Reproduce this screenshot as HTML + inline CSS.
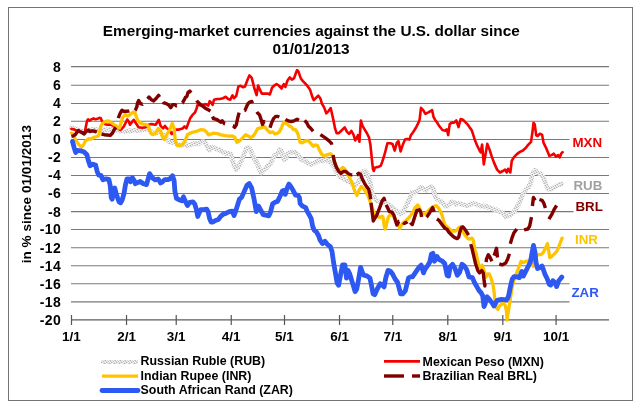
<!DOCTYPE html>
<html><head><meta charset="utf-8"><style>
html,body{margin:0;padding:0;background:#fff;}
svg{display:block;}
text{font-family:"Liberation Sans",Arial,sans-serif;font-weight:bold;fill:#000;}
.ax{font-size:13.5px;}
.yl{font-size:14px;letter-spacing:0.3px;}
.lb{font-size:13.3px;}
.lg{font-size:12.4px;}
.tt{font-size:15.4px;}
.yt{font-size:13.6px;}
</style></head><body>
<svg width="641" height="408" viewBox="0 0 641 408">
<defs><pattern id="rubpat" patternUnits="userSpaceOnUse" x="0" y="0" width="5" height="5"><rect width="5" height="5" fill="#d6d6d6"/><rect x="0" y="0" width="1" height="1" fill="#b8b8b8"/><rect x="1" y="0" width="1" height="1" fill="#f4f4f4"/><rect x="3" y="0" width="1" height="1" fill="#f4f4f4"/><rect x="2" y="1" width="1" height="1" fill="#f4f4f4"/><rect x="3" y="1" width="1" height="1" fill="#b8b8b8"/><rect x="4" y="1" width="1" height="1" fill="#f4f4f4"/><rect x="0" y="2" width="1" height="1" fill="#f4f4f4"/><rect x="1" y="2" width="1" height="1" fill="#b8b8b8"/><rect x="3" y="2" width="1" height="1" fill="#f4f4f4"/><rect x="1" y="3" width="1" height="1" fill="#f4f4f4"/><rect x="2" y="3" width="1" height="1" fill="#f4f4f4"/><rect x="4" y="3" width="1" height="1" fill="#b8b8b8"/><rect x="0" y="4" width="1" height="1" fill="#f4f4f4"/><rect x="2" y="4" width="1" height="1" fill="#b8b8b8"/><rect x="3" y="4" width="1" height="1" fill="#f4f4f4"/><rect x="4" y="4" width="1" height="1" fill="#f4f4f4"/></pattern></defs>
<rect width="641" height="408" fill="#fff"/>
<rect x="8.5" y="7.5" width="624" height="393" fill="none" stroke="#747474" stroke-width="1"/>
<line x1="71" y1="66.60" x2="609" y2="66.60" stroke="#787878" stroke-width="1.1"/>
<line x1="71" y1="85.20" x2="609" y2="85.20" stroke="#787878" stroke-width="1.1"/>
<line x1="71" y1="103.50" x2="609" y2="103.50" stroke="#787878" stroke-width="1.1"/>
<line x1="71" y1="121.30" x2="609" y2="121.30" stroke="#787878" stroke-width="1.1"/>
<line x1="71" y1="139.50" x2="609" y2="139.50" stroke="#787878" stroke-width="1.1"/>
<line x1="71" y1="157.50" x2="609" y2="157.50" stroke="#787878" stroke-width="1.1"/>
<line x1="71" y1="175.50" x2="609" y2="175.50" stroke="#787878" stroke-width="1.1"/>
<line x1="71" y1="193.50" x2="609" y2="193.50" stroke="#787878" stroke-width="1.1"/>
<line x1="71" y1="211.60" x2="609" y2="211.60" stroke="#787878" stroke-width="1.1"/>
<line x1="71" y1="229.50" x2="609" y2="229.50" stroke="#787878" stroke-width="1.1"/>
<line x1="71" y1="247.70" x2="609" y2="247.70" stroke="#787878" stroke-width="1.1"/>
<line x1="71" y1="265.80" x2="609" y2="265.80" stroke="#787878" stroke-width="1.1"/>
<line x1="71" y1="283.80" x2="609" y2="283.80" stroke="#787878" stroke-width="1.1"/>
<line x1="71" y1="301.90" x2="609" y2="301.90" stroke="#787878" stroke-width="1.1"/>
<line x1="71" y1="319.90" x2="609" y2="319.90" stroke="#5c5c5c" stroke-width="1.2"/>
<line x1="71.50" y1="315" x2="71.50" y2="325" stroke="#555" stroke-width="1.2"/>
<text x="71.50" y="340.6" text-anchor="middle" class="ax">1/1</text>
<line x1="126.53" y1="315" x2="126.53" y2="325" stroke="#555" stroke-width="1.2"/>
<text x="126.53" y="340.6" text-anchor="middle" class="ax">2/1</text>
<line x1="176.22" y1="315" x2="176.22" y2="325" stroke="#555" stroke-width="1.2"/>
<text x="176.22" y="340.6" text-anchor="middle" class="ax">3/1</text>
<line x1="231.25" y1="315" x2="231.25" y2="325" stroke="#555" stroke-width="1.2"/>
<text x="231.25" y="340.6" text-anchor="middle" class="ax">4/1</text>
<line x1="284.50" y1="315" x2="284.50" y2="325" stroke="#555" stroke-width="1.2"/>
<text x="284.50" y="340.6" text-anchor="middle" class="ax">5/1</text>
<line x1="339.52" y1="315" x2="339.52" y2="325" stroke="#555" stroke-width="1.2"/>
<text x="339.52" y="340.6" text-anchor="middle" class="ax">6/1</text>
<line x1="392.77" y1="315" x2="392.77" y2="325" stroke="#555" stroke-width="1.2"/>
<text x="392.77" y="340.6" text-anchor="middle" class="ax">7/1</text>
<line x1="447.80" y1="315" x2="447.80" y2="325" stroke="#555" stroke-width="1.2"/>
<text x="447.80" y="340.6" text-anchor="middle" class="ax">8/1</text>
<line x1="502.82" y1="315" x2="502.82" y2="325" stroke="#555" stroke-width="1.2"/>
<text x="502.82" y="340.6" text-anchor="middle" class="ax">9/1</text>
<line x1="556.08" y1="315" x2="556.08" y2="325" stroke="#555" stroke-width="1.2"/>
<text x="556.08" y="340.6" text-anchor="middle" class="ax">10/1</text>
<text x="61.0" y="71.50" text-anchor="end" class="yl">8</text>
<text x="61.0" y="90.10" text-anchor="end" class="yl">6</text>
<text x="61.0" y="108.40" text-anchor="end" class="yl">4</text>
<text x="61.0" y="126.20" text-anchor="end" class="yl">2</text>
<text x="61.0" y="144.40" text-anchor="end" class="yl">0</text>
<text x="61.0" y="162.40" text-anchor="end" class="yl">-2</text>
<text x="61.0" y="180.40" text-anchor="end" class="yl">-4</text>
<text x="61.0" y="198.40" text-anchor="end" class="yl">-6</text>
<text x="61.0" y="216.50" text-anchor="end" class="yl">-8</text>
<text x="61.0" y="234.40" text-anchor="end" class="yl">-10</text>
<text x="61.0" y="252.60" text-anchor="end" class="yl">-12</text>
<text x="61.0" y="270.70" text-anchor="end" class="yl">-14</text>
<text x="61.0" y="288.70" text-anchor="end" class="yl">-16</text>
<text x="61.0" y="306.80" text-anchor="end" class="yl">-18</text>
<text x="61.0" y="324.80" text-anchor="end" class="yl">-20</text>
<rect x="569.5" y="134" width="40" height="14" fill="#fff"/>
<rect x="573.5" y="205" width="36" height="12" fill="#fff"/>
<rect x="569.5" y="278" width="40" height="28" fill="#fff"/>
<polyline fill="none" stroke-linejoin="round" stroke-linecap="round" stroke="url(#rubpat)" stroke-width="4.8" points="71.5,127.6 74.0,128.2 77.0,130.0 80.0,131.0 84.0,131.5 87.0,130.5 90.0,130.0 94.0,129.5 97.0,129.8 100.0,130.2 103.0,130.0 106.0,130.0 109.0,129.5 112.0,129.6 116.0,130.2 120.0,131.0 124.0,131.2 128.0,131.0 132.0,130.6 136.0,130.2 139.4,130.5 143.0,129.5 147.0,129.0 150.0,131.0 153.0,133.0 156.0,133.0 159.0,131.5 162.0,134.0 163.7,135.5 166.2,137.4 168.1,140.5 170.0,142.4 172.5,142.4 175.0,143.0 177.5,144.2 180.0,145.5 182.5,144.9 185.0,144.2 187.5,145.5 190.0,144.9 192.5,144.2 195.0,143.3 197.5,144.0 200.0,142.8 202.4,141.5 204.3,142.0 206.4,144.8 208.1,148.2 209.5,150.0 211.2,147.4 213.7,147.5 216.2,149.0 218.7,149.6 221.3,151.2 223.9,152.5 226.4,153.5 228.7,153.4 231.0,154.3 232.5,160.0 234.4,166.5 236.2,169.5 238.1,167.0 240.0,163.5 242.0,159.6 244.4,152.7 246.4,148.3 248.3,147.4 249.8,148.8 251.3,151.8 252.7,155.7 254.2,158.6 256.2,161.6 258.1,165.5 260.1,170.4 261.1,173.0 262.5,171.4 264.5,169.4 266.5,167.5 268.4,165.5 270.4,163.5 272.4,159.6 274.3,155.7 276.3,154.7 278.2,152.7 279.7,149.8 281.2,150.8 282.6,154.7 284.1,159.6 285.6,158.6 287.1,154.7 289.0,152.7 291.0,152.7 292.9,151.8 294.9,152.3 296.9,153.7 298.8,156.2 299.9,158.1 302.4,160.0 305.0,161.0 307.9,162.8 310.9,164.5 313.8,163.2 316.8,161.8 319.7,160.3 322.6,161.0 325.6,159.6 328.5,160.3 331.5,163.2 333.7,166.2 335.9,171.0 338.1,174.5 340.2,177.0 342.9,178.5 345.9,180.2 348.8,181.8 351.8,183.5 354.7,185.7 357.6,183.5 360.6,177.6 362.8,171.8 365.0,171.0 367.2,174.0 369.4,179.1 370.9,186.5 372.4,193.8 374.6,198.5 376.8,200.9 381.7,201.9 387.5,203.8 392.5,207.7 397.4,211.7 400.3,214.0 402.3,212.6 404.2,209.7 406.2,205.8 408.1,201.9 410.1,197.9 411.9,192.5 414.1,193.2 417.1,191.0 419.3,188.8 421.5,187.4 423.7,188.8 425.9,190.3 428.1,188.1 431.0,186.6 433.2,188.8 434.7,194.7 436.2,198.4 439.1,200.6 442.1,202.1 445.0,205.7 447.2,206.5 449.4,204.0 451.6,202.0 454.0,202.5 455.9,204.3 458.8,203.5 461.8,204.3 464.7,205.0 467.6,205.7 470.6,204.3 473.5,203.5 476.5,204.3 479.4,205.7 482.4,206.3 485.3,205.9 488.2,207.2 491.2,208.5 494.1,209.4 497.1,210.1 500.0,211.6 502.5,212.8 505.9,216.8 508.1,216.0 510.3,215.0 512.5,213.5 515.4,209.7 518.9,203.5 522.3,195.5 524.9,190.9 528.3,187.4 530.9,182.3 532.6,173.7 535.2,170.3 537.7,172.9 540.3,173.7 542.9,176.3 545.4,183.2 548.0,189.2 551.5,189.2 554.9,186.6 558.3,184.9 561.7,184.0"/>
<polyline fill="none" stroke-linejoin="round" stroke-linecap="round" stroke="#f40000" stroke-width="2.6" points="71.4,129.0 73.9,129.4 75.8,130.2 77.8,130.5 79.8,131.3 81.7,132.2 83.7,132.8 85.0,131.5 85.2,130.1 86.1,125.6 87.1,120.7 88.1,119.3 89.6,120.7 91.5,119.3 93.5,118.3 95.5,119.3 97.4,118.8 99.4,117.8 100.8,118.3 101.8,120.7 103.3,122.7 105.3,124.2 107.2,124.7 110.0,124.5 112.9,125.6 115.9,127.6 118.8,129.0 120.3,130.0 121.8,128.6 123.7,126.6 125.5,123.2 127.2,119.5 128.7,121.6 130.0,124.7 133.7,119.8 136.1,123.5 138.6,127.2 142.3,127.8 145.9,127.2 148.4,124.7 151.4,124.1 155.7,124.7 158.8,119.8 160.6,125.9 163.1,128.4 164.9,125.9 166.8,128.4 169.2,129.6 171.7,134.0 172.9,132.7 175.3,129.6 179.0,129.6 182.7,128.4 184.5,126.5 186.4,128.4 188.2,123.5 190.0,118.6 192.5,114.9 195.0,112.5 196.8,108.0 197.2,105.5 199.4,104.9 202.4,105.6 205.3,104.1 208.2,105.6 209.7,101.2 211.2,102.6 212.6,104.9 214.1,99.7 217.1,99.0 220.0,99.0 222.9,98.2 225.9,96.8 228.1,99.0 230.3,99.7 232.5,95.3 234.0,98.2 236.2,96.0 238.4,86.5 240.6,85.7 242.8,87.2 245.0,86.5 247.2,80.6 249.4,75.4 251.6,77.6 252.2,79.6 254.4,88.5 256.6,95.1 258.1,85.5 259.6,89.2 261.8,93.6 264.7,93.6 267.6,93.6 269.9,94.4 272.1,87.7 274.3,85.5 276.5,84.1 278.7,85.5 281.6,88.5 283.8,84.1 285.3,87.0 287.5,80.4 289.7,77.4 291.9,79.6 294.1,78.2 295.6,73.8 297.1,70.1 298.5,71.6 300.7,78.2 302.9,81.1 305.1,83.3 307.6,86.2 310.1,89.8 312.4,97.1 313.8,100.1 316.0,97.9 318.2,95.6 320.4,98.6 321.9,103.7 324.1,107.4 326.3,113.3 328.5,111.1 330.7,108.1 332.2,114.8 333.7,121.4 335.1,128.7 336.6,133.1 338.8,133.1 341.8,130.2 344.7,127.3 346.9,131.7 349.1,133.9 351.3,130.9 353.5,134.6 355.2,140.5 356.5,138.1 357.9,135.2 359.4,141.8 360.9,120.5 362.4,125.6 364.6,129.3 366.8,133.0 369.0,137.4 370.4,144.8 371.2,152.4 371.9,159.7 373.0,169.3 373.8,171.0 374.9,167.8 376.7,167.1 378.9,166.7 380.8,165.6 382.2,161.9 384.1,156.0 385.5,150.9 387.4,143.3 390.3,143.3 392.5,144.0 394.7,150.6 396.9,142.6 398.4,141.1 400.6,151.4 402.8,144.8 405.0,139.6 407.2,138.9 409.4,139.6 410.9,135.2 413.4,131.8 415.9,127.8 418.1,123.4 419.6,119.7 421.0,107.9 423.2,110.1 425.4,113.8 428.4,112.4 432.1,110.1 433.5,116.8 435.0,119.7 437.2,122.6 439.4,126.3 442.4,130.0 445.3,130.7 446.8,129.3 448.2,135.1 449.7,124.1 451.9,122.6 454.1,122.6 456.3,120.4 458.5,127.1 460.7,119.0 462.9,119.7 465.1,121.9 467.3,124.1 469.4,127.1 471.6,130.0 473.1,134.4 474.8,139.8 477.0,145.3 479.2,149.8 480.7,152.3 482.1,144.6 483.8,164.4 485.3,155.6 487.3,143.9 489.5,149.4 491.7,156.4 494.1,162.9 497.1,169.6 500.0,172.5 502.9,171.0 505.1,169.6 506.6,172.5 508.1,168.8 510.3,172.5 511.8,160.7 514.0,157.1 516.9,154.1 519.9,151.9 522.9,150.5 525.9,147.8 528.1,144.9 531.0,141.9 532.5,131.6 533.5,122.8 534.7,124.3 536.2,135.3 537.6,136.0 539.9,133.8 542.1,134.6 543.5,142.6 545.7,147.1 547.9,152.2 549.4,155.9 551.6,155.1 553.8,153.7 556.0,156.6 558.2,155.1 559.7,157.4 561.2,153.7 562.6,152.2"/>
<polyline fill="none" stroke-linejoin="round" stroke-linecap="round" stroke="#ffc400" stroke-width="3.3" points="71.4,133.0 73.4,134.5 75.4,139.4 77.3,142.3 79.3,145.3 81.5,147.2 83.7,144.5 85.2,141.3 87.1,139.7 89.0,138.7 90.9,139.2 92.8,138.0 94.8,137.0 96.8,136.5 98.7,135.5 99.7,131.6 100.7,126.7 102.2,123.8 104.1,122.3 106.1,121.3 108.5,120.8 110.3,122.0 112.3,123.3 114.2,124.8 116.2,126.0 117.9,128.0 119.5,128.0 120.8,123.5 122.3,118.5 123.7,116.0 125.7,115.0 127.6,116.0 129.6,115.0 131.5,113.4 133.4,112.0 134.6,112.8 134.9,112.5 137.4,119.8 141.0,123.5 145.9,124.7 148.4,125.9 150.8,133.3 152.7,134.5 155.7,133.3 158.2,128.4 160.6,130.8 162.5,137.0 164.3,139.4 166.8,134.5 169.8,129.6 172.3,123.5 174.1,128.4 175.3,140.6 177.2,145.5 180.2,145.5 182.7,144.3 185.1,140.6 187.6,134.5 191.3,132.7 196.2,131.4 200.3,129.7 203.8,129.8 206.5,132.0 208.5,134.8 210.5,134.2 213.7,133.1 217.4,133.6 221.2,134.9 224.9,135.6 228.7,136.1 232.4,136.0 234.9,137.5 236.9,142.3 239.0,141.2 242.1,138.4 245.7,134.7 248.7,136.2 250.5,137.6 252.9,136.2 255.1,133.3 257.4,128.9 259.6,128.1 262.5,127.4 264.7,126.7 266.9,129.6 269.9,132.6 272.8,131.8 275.0,134.0 277.2,133.3 279.4,131.8 281.6,127.4 283.1,123.7 284.6,122.3 286.8,123.7 289.0,125.9 291.2,126.7 293.4,129.6 295.6,129.6 297.8,133.3 300.0,142.1 302.2,142.9 304.4,141.4 306.6,140.5 308.5,140.8 310.9,143.4 313.1,146.3 315.3,144.9 317.5,145.6 319.7,150.7 321.9,154.4 324.1,155.9 326.3,155.1 328.5,154.4 330.7,153.7 332.9,156.6 335.1,163.2 337.4,169.1 340.1,170.0 342.7,167.5 344.7,168.8 346.5,172.5 348.9,176.5 351.6,181.5 354.7,190.9 356.9,195.3 359.1,190.1 361.3,186.5 363.5,188.7 365.7,191.6 367.9,195.5 369.9,200.9 371.9,206.8 374.3,214.6 376.8,216.1 379.7,217.5 382.2,216.1 383.1,217.5 384.1,225.4 385.1,229.0 386.1,226.4 387.1,221.5 388.5,216.6 390.5,214.6 392.5,215.6 394.4,217.5 396.4,220.5 398.3,224.4 399.8,228.5 401.3,225.4 403.2,222.5 406.2,220.5 409.1,217.5 412.1,213.5 414.9,207.9 417.8,205.0 419.3,207.2 420.7,211.6 422.9,213.8 425.1,213.8 427.4,211.6 430.3,208.7 433.2,206.5 436.2,205.7 438.4,207.9 440.6,211.6 442.1,215.3 443.5,220.4 445.0,225.0 447.5,227.3 449.9,229.3 452.4,231.2 454.8,231.2 456.8,230.3 458.7,227.8 460.7,226.8 462.6,229.8 464.1,233.7 466.1,236.6 468.0,238.6 470.0,239.1 472.0,238.1 473.4,240.5 473.9,244.5 474.9,249.4 476.4,254.3 477.6,260.5 478.9,265.3 480.6,268.7 482.3,265.3 484.0,270.4 485.7,277.3 487.4,273.9 489.2,274.0 491.2,278.7 493.0,284.8 494.3,293.4 494.9,300.7 496.1,307.5 497.9,309.3 499.8,305.6 501.6,304.4 503.4,303.2 505.3,305.6 506.5,311.8 507.1,320.0 508.3,311.8 509.6,303.2 510.8,295.8 512.0,288.5 513.3,282.4 515.1,276.5 517.4,271.2 519.2,266.3 521.0,261.4 523.5,262.6 525.9,261.4 528.4,260.8 530.8,263.9 533.3,266.3 535.7,256.5 538.2,254.7 540.6,254.7 543.1,252.8 545.5,247.9 547.4,243.6 548.6,250.4 549.8,257.7 551.7,256.5 554.1,254.1 556.6,251.6 558.4,247.9 560.2,243.0 562.1,238.1"/>
<polyline fill="none" stroke-linejoin="round" stroke-linecap="butt" stroke="#800000" stroke-width="3.4" points="71.4,136.4 73.4,135.9 75.4,134.5 76.8,132.5 78.3,130.5 79.8,131.5 81.7,132.5 84.2,134.0 86.1,131.5 88.1,130.1 89.6,131.5 91.5,131.0 93.5,131.0 95.5,131.5 96.8,132.2"/>
<polyline fill="none" stroke-linejoin="round" stroke-linecap="butt" stroke="#800000" stroke-width="3.4" points="101.5,134.0 104.3,134.7 107.2,135.0 110.3,135.4 112.5,133.0 114.3,129.5 115.9,127.4"/>
<polyline fill="none" stroke-linejoin="round" stroke-linecap="butt" stroke="#800000" stroke-width="3.4" points="118.3,118.2 118.4,117.8 120.0,113.7 122.0,110.2 124.2,111.5 126.5,111.2 128.6,111.1 129.4,110.9"/>
<polyline fill="none" stroke-linejoin="round" stroke-linecap="butt" stroke="#800000" stroke-width="3.4" points="135.0,110.5 135.6,109.7 136.9,106.6 137.5,103.0 138.7,100.5 140.5,103.6 142.4,104.2 142.5,104.1"/>
<polyline fill="none" stroke-linejoin="round" stroke-linecap="butt" stroke="#800000" stroke-width="3.4" points="147.5,98.8 149.1,97.0 151.3,99.8 153.7,100.9 156.1,98.5 158.6,95.4 159.7,97.0"/>
<polyline fill="none" stroke-linejoin="round" stroke-linecap="butt" stroke="#800000" stroke-width="3.4" points="163.0,102.0 163.5,102.8 165.9,103.4 169.0,105.2 170.8,107.7 172.7,104.6 175.1,104.6 176.3,105.8 176.7,105.6"/>
<polyline fill="none" stroke-linejoin="round" stroke-linecap="butt" stroke="#800000" stroke-width="3.4" points="182.3,102.9 182.5,102.8 184.3,99.7 185.5,97.3 186.8,96.6 188.0,92.4 189.8,91.1 191.3,92.6"/>
<polyline fill="none" stroke-linejoin="round" stroke-linecap="butt" stroke="#800000" stroke-width="3.4" points="196.6,100.6 196.8,100.9 199.4,103.6 202.4,106.0 205.3,108.2 208.2,109.7 210.4,111.2"/>
<polyline fill="none" stroke-linejoin="round" stroke-linecap="butt" stroke="#800000" stroke-width="3.4" points="212.6,116.5 213.4,118.5 216.3,119.3 218.5,120.7 220.7,122.2 222.2,120.7 224.4,123.7 225.1,123.9"/>
<polyline fill="none" stroke-linejoin="round" stroke-linecap="butt" stroke="#800000" stroke-width="3.4" points="232.8,125.8 233.2,125.9 234.7,127.4 236.2,125.1 237.6,118.5 239.1,112.6"/>
<polyline fill="none" stroke-linejoin="round" stroke-linecap="butt" stroke="#800000" stroke-width="3.4" points="244.2,110.7 245.0,110.4 246.5,106.8 247.9,103.8 250.1,101.8 251.8,101.5 252.4,103.3"/>
<polyline fill="none" stroke-linejoin="round" stroke-linecap="butt" stroke="#800000" stroke-width="3.4" points="256.9,111.8 257.4,112.7 259.6,114.9 261.0,119.3 262.5,124.5 264.0,121.5 264.4,121.9"/>
<polyline fill="none" stroke-linejoin="round" stroke-linecap="butt" stroke="#800000" stroke-width="3.4" points="270.0,127.8 271.3,123.7 273.5,118.6 275.7,116.4 277.9,116.4 279.3,117.1"/>
<polyline fill="none" stroke-linejoin="round" stroke-linecap="butt" stroke="#800000" stroke-width="3.4" points="285.4,119.4 288.2,120.8 291.2,121.5 294.1,120.8 297.1,119.3 299.0,120.3"/>
<polyline fill="none" stroke-linejoin="round" stroke-linecap="butt" stroke="#800000" stroke-width="3.4" points="304.6,120.3 306.6,122.5 308.5,126.2 310.9,128.5 313.1,131.3"/>
<polyline fill="none" stroke-linejoin="round" stroke-linecap="butt" stroke="#800000" stroke-width="3.4" points="320.4,134.6 322.6,136.0 325.6,138.2 328.5,140.4 331.5,143.4 331.7,144.7"/>
<polyline fill="none" stroke-linejoin="round" stroke-linecap="butt" stroke="#800000" stroke-width="3.4" points="333.1,155.0 333.7,158.8 335.1,164.0 336.6,167.6 338.8,171.5 341.0,173.5 343.2,171.5 345.9,171.5 348.8,174.0 352.0,175.0 352.3,175.0"/>
<polyline fill="none" stroke-linejoin="round" stroke-linecap="butt" stroke="#800000" stroke-width="3.4" points="356.7,174.8 357.0,174.7 358.6,173.2 360.6,174.5 362.1,178.4 364.3,182.8 366.5,186.5 368.7,189.4 370.1,195.0 370.6,199.3"/>
<polyline fill="none" stroke-linejoin="round" stroke-linecap="butt" stroke="#800000" stroke-width="3.4" points="371.0,202.7 372.1,211.5 373.3,221.0 375.0,218.0 376.8,215.1 379.7,207.7 382.2,200.9 384.1,198.4 384.9,201.2"/>
<polyline fill="none" stroke-linejoin="round" stroke-linecap="butt" stroke="#800000" stroke-width="3.4" points="386.3,204.8 387.1,206.8 389.5,211.7 392.0,212.2 393.9,215.1 395.4,220.5 396.9,224.9 398.8,221.5 399.4,221.4"/>
<polyline fill="none" stroke-linejoin="round" stroke-linecap="butt" stroke="#800000" stroke-width="3.4" points="403.1,222.5 404.2,223.4 407.2,222.0 407.4,221.8"/>
<polyline fill="none" stroke-linejoin="round" stroke-linecap="butt" stroke="#800000" stroke-width="3.4" points="410.5,222.5 411.1,223.4 412.3,224.5 414.2,218.6 416.8,210.5 419.3,209.8 420.8,212.0 421.6,217.0"/>
<polyline fill="none" stroke-linejoin="round" stroke-linecap="butt" stroke="#800000" stroke-width="3.4" points="426.6,217.2 426.7,217.1 429.6,212.7 432.6,207.6 434.0,211.2 434.2,211.9"/>
<polyline fill="none" stroke-linejoin="round" stroke-linecap="butt" stroke="#800000" stroke-width="3.4" points="436.9,219.0 439.1,220.4 441.3,223.4 443.5,226.5 445.3,228.5 447.0,229.3 448.9,232.2 450.9,234.2 452.8,236.1 454.8,237.6 457.3,238.6 458.7,237.1 459.7,232.7 461.2,227.8 462.6,226.8 464.1,228.3 465.6,230.3 467.1,232.7 468.5,235.2"/>
<polyline fill="none" stroke-linejoin="round" stroke-linecap="butt" stroke="#800000" stroke-width="3.4" points="470.8,244.2 471.0,245.0 472.0,248.4 472.9,252.3 473.9,256.7 475.5,263.5 477.8,270.6 479.4,272.9 481.8,270.6 483.3,272.9 484.1,280.8 484.9,286.0 485.0,283.7"/>
<polyline fill="none" stroke-linejoin="round" stroke-linecap="butt" stroke="#800000" stroke-width="3.4" points="486.2,262.1 486.4,259.3 488.3,254.7 490.1,257.5 491.9,261.2"/>
<polyline fill="none" stroke-linejoin="round" stroke-linecap="butt" stroke="#800000" stroke-width="3.4" points="494.1,255.6 494.7,253.8 496.5,248.3 497.5,257.5"/>
<polyline fill="none" stroke-linejoin="round" stroke-linecap="butt" stroke="#800000" stroke-width="3.4" points="499.3,263.9 502.1,264.9 505.7,263.0 507.6,259.3 509.4,253.8"/>
<polyline fill="none" stroke-linejoin="round" stroke-linecap="butt" stroke="#800000" stroke-width="3.4" points="510.3,243.7 512.2,237.3 514.0,232.7 516.8,229.0"/>
<polyline fill="none" stroke-linejoin="round" stroke-linecap="butt" stroke="#800000" stroke-width="3.4" points="524.1,229.9 527.8,229.0 529.6,226.3 531.5,217.1"/>
<polyline fill="none" stroke-linejoin="round" stroke-linecap="butt" stroke="#800000" stroke-width="3.4" points="532.4,206.0 533.4,197.5 535.2,200.3"/>
<polyline fill="none" stroke-linejoin="round" stroke-linecap="butt" stroke="#800000" stroke-width="3.4" points="539.4,199.5 542.0,200.3 543.7,202.9 545.4,208.0"/>
<polyline fill="none" stroke-linejoin="round" stroke-linecap="butt" stroke="#800000" stroke-width="3.4" points="548.9,219.2 551.5,214.9 554.0,209.7 556.6,205.5"/>
<polyline fill="none" stroke-linejoin="round" stroke-linecap="round" stroke="#2d58f2" stroke-width="4.8" points="72.5,141.5 74.4,148.5 75.7,152.5 77.5,150.4 80.7,150.9 83.8,151.7 86.9,154.8 88.5,161.1 90.1,165.8 92.4,164.2 95.6,165.0 97.1,171.3 98.7,175.2 101.0,175.5 102.9,179.8 105.9,178.8 108.8,179.3 110.3,186.0 111.2,197.5 112.2,199.2 113.4,192.0 114.7,188.0 116.2,193.5 117.8,198.5 119.1,202.0 120.6,202.8 122.1,200.0 124.0,193.5 125.5,184.7 127.0,178.8 128.9,178.8 130.4,181.8 132.4,177.8 134.3,180.8 135.3,183.7 137.3,182.7 140.2,181.5 143.4,183.8 146.5,184.6 149.6,173.6 152.0,177.5 155.1,179.9 158.3,179.1 160.6,183.0 162.4,181.9 164.7,179.6 167.8,179.6 170.2,178.8 172.5,175.7 174.1,180.4 174.9,191.3 176.5,198.4 179.6,200.0 181.9,200.8 183.5,196.8 185.1,200.8 187.4,205.5 189.8,202.3 192.9,201.9 194.9,204.3 196.4,209.7 197.8,216.5 199.3,212.6 200.8,209.7 203.7,209.7 206.7,209.2 208.1,211.7 209.6,218.5 211.1,222.0 213.0,222.0 215.5,220.5 218.4,219.5 220.4,216.6 223.3,214.1 226.3,213.1 229.2,211.7 232.2,211.2 234.1,215.5 236.1,209.7 238.0,203.8 239.5,198.9 241.5,197.6 244.6,190.6 247.0,185.1 249.3,183.5 251.7,188.2 253.9,198.2 256.3,211.6 258.6,206.1 261.0,210.8 263.3,214.7 265.7,215.2 268.8,215.8 270.4,212.4 272.7,203.7 275.1,202.2 277.5,201.4 279.8,196.7 282.2,191.2 283.7,190.4 285.3,194.3 286.9,188.8 288.9,184.1 290.8,186.5 293.1,190.4 295.5,195.1 297.8,195.1 299.4,197.5 300.2,203.7 302.5,206.1 305.7,207.6 307.3,211.6 309.6,215.5 311.2,218.6 312.7,226.5 314.3,230.4 316.3,231.8 318.6,235.7 320.2,240.4 322.5,243.5 324.9,241.2 327.3,244.3 330.4,246.7 332.0,251.4 333.5,262.0 335.5,273.5 337.1,282.9 338.6,285.3 340.2,276.7 342.5,264.9 344.9,264.9 346.5,278.2 348.0,270.4 349.6,273.5 352.0,281.4 355.1,291.6 356.7,289.2 358.2,281.4 360.6,267.3 362.2,272.0 363.7,275.1 366.9,275.9 370.0,278.2 371.6,286.1 373.1,293.9 374.7,294.7 377.1,289.2 380.2,283.7 382.5,285.3 384.1,286.9 385.7,278.2 388.0,270.4 390.4,271.2 392.7,274.3 395.1,279.0 397.5,282.2 399.0,287.6 400.6,293.9 402.9,293.9 405.3,290.8 406.9,284.5 408.5,278.0 410.2,276.9 412.5,276.9 415.7,272.2 418.8,267.5 421.2,265.1 423.5,272.9 425.1,269.0 427.5,265.9 429.8,262.0 431.4,254.1 432.9,253.3 434.5,261.2 436.9,256.5 439.2,259.6 442.4,261.2 444.7,263.5 447.1,275.3 448.6,276.1 450.2,266.7 452.5,264.3 454.9,268.2 457.3,275.3 459.6,272.2 462.0,264.3 464.3,265.9 466.7,269.8 469.0,276.9 472.4,277.6 474.7,283.1 477.1,287.1 479.2,290.8 480.9,292.5 482.6,295.5 483.4,301.2 484.0,306.5 485.2,303.7 487.1,296.8 488.9,298.8 490.7,301.2 492.6,303.5 494.0,306.0 495.5,303.5 497.0,300.5 499.0,299.8 501.5,299.5 504.0,299.6 506.3,300.0 507.5,298.5 508.7,295.5 509.7,290.2 511.0,284.1 512.2,279.2 514.0,276.7 517.1,276.9 519.4,277.6 521.8,271.4 523.3,276.1 525.7,271.4 528.0,266.7 530.4,262.0 532.2,252.3 533.5,245.4 535.0,252.3 536.0,262.4 537.5,268.5 539.8,267.5 542.0,266.0 543.4,269.7 544.9,274.1 547.1,278.5 549.3,284.4 550.7,285.1 552.9,280.7 555.1,282.9 556.6,286.6 558.8,280.7 561.8,277.1"/>
<text x="572.5" y="146.7" class="lb" style="fill:#f00000">MXN</text>
<text x="573.5" y="189.7" class="lb" style="fill:#a0a0a0">RUB</text>
<text x="575.5" y="210.6" class="lb" style="fill:#800000">BRL</text>
<text x="575" y="243.8" class="lb" style="fill:#ffc400">INR</text>
<text x="571.5" y="296.7" class="lb" style="fill:#2d58f2">ZAR</text>
<rect x="101" y="360" width="37" height="4" fill="url(#rubpat)"/>
<line x1="102" y1="376.2" x2="138" y2="376.2" stroke="#ffc400" stroke-width="3.2"/>
<line x1="102" y1="390.5" x2="138" y2="390.5" stroke="#2d58f2" stroke-width="4.8" stroke-linecap="round"/>
<text x="140.6" y="365.4" class="lg">Russian Ruble (RUB)</text>
<text x="140.6" y="380" class="lg">Indian Rupee (INR)</text>
<text x="140.6" y="394.2" class="lg">South African Rand (ZAR)</text>
<line x1="384" y1="361.4" x2="420" y2="361.4" stroke="#f00000" stroke-width="2.6"/>
<line x1="384" y1="376" x2="404" y2="376" stroke="#800000" stroke-width="3.4"/>
<line x1="412" y1="376" x2="420" y2="376" stroke="#800000" stroke-width="3.4"/>
<text x="422.6" y="365.6" class="lg">Mexican Peso (MXN)</text>
<text x="422.6" y="379.6" class="lg">Brazilian Real BRL)</text>
<text x="311.3" y="36.2" text-anchor="middle" class="tt" textLength="417" lengthAdjust="spacingAndGlyphs">Emerging-market currencies against the U.S. dollar since</text>
<text x="311.1" y="53.6" text-anchor="middle" class="tt">01/01/2013</text>
<text transform="translate(30.6,194.2) rotate(-90)" text-anchor="middle" class="yt">in % since 01/01/2013</text>
</svg>
</body></html>
